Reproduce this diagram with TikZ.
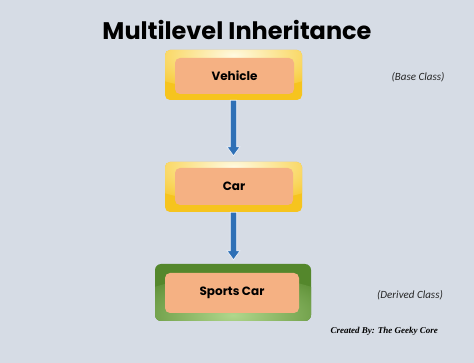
\documentclass[tikz,border=0pt]{standalone}
\usepackage{fontspec}
\setmainfont{Poppins}
\newfontfamily\labelfont{Carlito}
\newfontfamily\signfont{Liberation Serif}
\usetikzlibrary{calc}
\definecolor{bg}{RGB}{214,220,229}
\definecolor{gold}{RGB}{246,196,30}
\definecolor{goldlight}{RGB}{255,250,225}
\definecolor{greendark}{RGB}{84,135,44}
\definecolor{greenlight}{RGB}{176,215,140}
\definecolor{salmon}{RGB}{245,177,131}
\definecolor{arrowblue}{RGB}{46,112,182}
\definecolor{arrowedge}{RGB}{235,240,248}
\tikzset{
  framebox/.style={rounded corners=5pt, minimum width=137pt, minimum height=50pt, inner sep=0pt, fill=gold,
    path picture={\shade[inner color=goldlight, outer color=gold]
      (path picture bounding box.north) ellipse (110pt and 40pt);}},
  greenbox/.style={rounded corners=6pt, minimum width=156pt, minimum height=57pt, inner sep=0pt, fill=greendark,
    path picture={\shade[inner color=greenlight, outer color=greendark]
      (path picture bounding box.south) ellipse (120pt and 45pt);}},
  innerbox/.style={fill=salmon, rounded corners=5pt, inner sep=0pt, font=\bfseries\fontsize{12}{14}\selectfont},
  sidelabel/.style={font=\labelfont\itshape\fontsize{11}{13}\selectfont, text=black!85},
  arrowshape/.style={fill=arrowblue, draw=arrowedge, line width=0.7pt, line join=miter}
}
\begin{document}
\begin{tikzpicture}[x=1pt,y=-1pt]
\fill[bg] (0,0) rectangle (474,363);
\useasboundingbox (0,0) rectangle (474,363);

\node[font=\bfseries\fontsize{24}{28}\selectfont] (title) at (237,30) {Multilevel Inheritance};

\node[framebox] (vout) at (233.5,75) {};
\node[innerbox, minimum width=119pt, minimum height=36pt] (vehicle) at (234.5,76) {Vehicle};

\node[framebox] (cout) at (233.5,187) {};
\node[innerbox, minimum width=118pt, minimum height=37pt] (car) at (234,186.5) {Car};

\node[greenbox] (sout) at (233,292.5) {};
\node[innerbox, minimum width=134pt, minimum height=40pt] (sports) at (232,293) {Sports Car};

\node[sidelabel] (base) at (418,77) {(Base Class)};
\node[sidelabel] (derived) at (410,295) {(Derived Class)};
\node[font=\signfont\bfseries\itshape\fontsize{9}{11}\selectfont, anchor=west] (credit) at (327,331) {Created By: The Geeky Core};

% arrows
\path let \p1=(vout.south), \p2=(cout.north) in
  [arrowshape] (\x1-3.2pt,\y1) -- (\x1+3.2pt,\y1) -- (\x1+3.2pt,\y2+15pt) -- (\x1+6.5pt,\y2+15pt)
  -- (\x1,\y2+6pt) -- (\x1-6.5pt,\y2+15pt) -- (\x1-3.2pt,\y2+15pt) -- cycle;
\path let \p1=(cout.south), \p2=(sout.north) in
  [arrowshape] (\x1-3.2pt,\y1) -- (\x1+3.2pt,\y1) -- (\x1+3.2pt,\y2+13pt) -- (\x1+6.5pt,\y2+13pt)
  -- (\x1,\y2+4pt) -- (\x1-6.5pt,\y2+13pt) -- (\x1-3.2pt,\y2+13pt) -- cycle;
\end{tikzpicture}
\end{document}
